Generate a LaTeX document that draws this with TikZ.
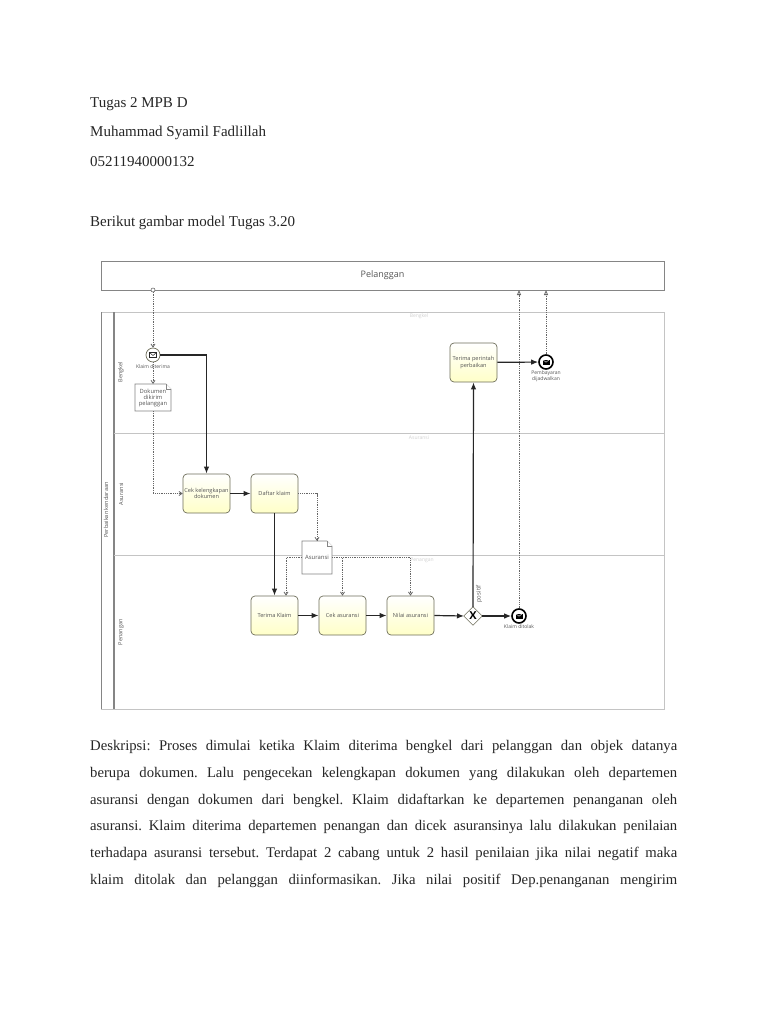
\documentclass[tikz,border=0pt]{standalone}
\usepackage{fontspec}
\setmainfont{Liberation Serif}
\setsansfont{Open Sans}
\usetikzlibrary{arrows.meta}
\definecolor{tasky}{HTML}{FFFFC8}
\definecolor{edgeg}{HTML}{6E6E5A}
\definecolor{laneg}{HTML}{C4C4C4}
\definecolor{poolg}{HTML}{858585}
\definecolor{ink}{HTML}{262626}
\definecolor{soft}{HTML}{555555}
\definecolor{dotg}{HTML}{666666}
\tikzset{
  x=1pt,y=-1pt,
  body/.style={inner sep=0pt,anchor=base west,font=\fontsize{15}{17}\selectfont,text=ink},
  desc/.style={inner sep=0pt,anchor=base west,font=\fontsize{14.7}{17}\selectfont,text=ink},
  task/.style={draw=edgeg,rounded corners=4pt,line width=.7pt,shading angle=-45,top color=white,bottom color=tasky,minimum width=47pt,minimum height=39pt,inner sep=0pt,align=center,font=\sffamily\fontsize{5.6}{6.2}\selectfont,text=soft},
  datadoc/.style={draw=poolg,fill=white,line width=.7pt},
  small/.style={font=\sffamily\fontsize{5}{5.6}\selectfont,text=soft,inner sep=0pt,align=center},
  lanelabel/.style={font=\sffamily\fontsize{5.6}{6}\selectfont,text=soft,inner sep=0pt,rotate=90},
  ghost/.style={font=\sffamily\fontsize{5}{6}\selectfont,text=black!18,inner sep=0pt},
  seq/.style={draw=ink,line width=1.2pt,-{Latex[length=7pt,width=5.5pt]}},
  assoc/.style={draw=dotg,line width=.8pt,densely dotted,-{Straight Barb[length=3pt,width=4pt]}},
  msg/.style={draw=dotg,line width=.8pt,densely dotted,-{Triangle[open,length=5pt,width=4pt]}},
  endev/.style={circle,draw=black,line width=1.6pt,fill=white,minimum size=14pt,inner sep=0pt},
}
\newcommand{\justline}[3]{\node[desc] (#1) at (90,#2) {\frenchspacing\makebox[587pt][s]{#3}};}
\begin{document}
\begin{tikzpicture}
\useasboundingbox[fill=white] (0,0) rectangle (768,1024);
% header text
\node[body] (t1) at (90,107.5) {Tugas 2 MPB D};
\node[body] (t2) at (90,137) {Muhammad Syamil Fadlillah};
\node[body] (t3) at (90,167) {05211940000132};
\node[body] (t4) at (90,226) {Berikut gambar model Tugas 3.20};
% pools
\node[draw=poolg,line width=.9pt,minimum width=563pt,minimum height=29pt,inner sep=0pt,font=\sffamily\fontsize{9}{10}\selectfont,text=soft] (pelanggan) at (382.5,275.5) {Pelanggan};
\draw[draw=laneg,line width=.9pt] (101,312) rectangle (664,709);
\draw[draw=poolg,line width=.9pt] (101,312) -- (101,709);
\draw[draw=poolg,line width=1.1pt] (114,312) -- (114,709);
\draw[draw=laneg,line width=.6pt] (114,433) -- (664,433);
\draw[draw=laneg,line width=.8pt] (114,555) -- (664,555);
\node[lanelabel] (pool) at (106,510) {Perbaikan kendaraan};
\node[lanelabel] (l1) at (121,372) {Bengkel};
\node[lanelabel] (l2) at (121,494) {Asuransi};
\node[lanelabel] (l3) at (121,632) {Penangan};
\node[ghost] (g1) at (419,316) {Bengkel};
\node[ghost] (g2) at (419,438) {Asuransi};
\node[ghost] (g3) at (422,560) {Penangan};
% tasks
\node[task] (cek) at (206.5,493.5) {Cek kelengkapan\\dokumen};
\node[task] (daftar) at (274.5,493.5) {Daftar klaim};
\node[task] (terima) at (274.5,615.5) {Terima Klaim};
\node[task] (cekas) at (342.5,615.5) {Cek asuransi};
\node[task] (nilai) at (410.5,615.5) {Nilai asuransi};
\node[task] (perintah) at (473.5,362.5) {Terima perintah\\perbaikan};
% events
\node[circle,draw=edgeg,fill=white,line width=.7pt,minimum size=14pt,inner sep=0pt] (start) at (153,355) {};
\draw[draw=ink,line width=.5pt] (149.5,352.5) rectangle (156.5,357.5);
\draw[draw=ink,line width=.5pt] (149.5,352.5) -- (153,355.5) -- (156.5,352.5);
\node[small] (startl) at (153,367) {Klaim diterima};
\node[endev] (end1) at (546,362) {};
\node[endev] (end2) at (519,616) {};
\foreach \c in {end1,end2}{
  \fill[black] ([xshift=-3.5pt,yshift=-2.5pt]\c.center) rectangle ([xshift=3.5pt,yshift=2.5pt]\c.center);
  \draw[white,line width=.4pt] ([xshift=-3.5pt,yshift=2.5pt]\c.center) -- ([yshift=-.2pt]\c.center) -- ([xshift=3.5pt,yshift=2.5pt]\c.center);
}
\node[small] (end1l) at (546,376) {Pembayaran\\dijadwalkan};
\node[small] (end2l) at (519,627) {Klaim ditolak};
% gateway
\node[draw=edgeg,fill=white,line width=.6pt,shape=rectangle,rotate=45,minimum size=13pt,inner sep=0pt] (gw) at (473,616) {};
\node[font=\sffamily\bfseries\fontsize{11}{11}\selectfont,inner sep=0pt] (gwx) at (473,616) {X};
\node[small,rotate=90,font=\sffamily\fontsize{6}{6}\selectfont] (pos) at (479,594) {positif};
% documents
\draw[datadoc] (135,384) -- (166,384) -- (171,389) -- (171,411) -- (135,411) -- cycle;
\draw[datadoc] (166,384) -- (166,389) -- (171,389);
\node[small,font=\sffamily\fontsize{5.8}{6}\selectfont] (doc1) at (153,397.5) {Dokumen\\dikirim\\pelanggan};
\draw[datadoc] (302,541) -- (327,541) -- (332,546) -- (332,574) -- (302,574) -- cycle;
\draw[datadoc] (327,541) -- (327,546) -- (332,546);
\node[small,font=\sffamily\fontsize{5.9}{6}\selectfont] (doc2) at (317,557.5) {Asuransi};
\coordinate (doc1top) at (153,384);
\coordinate (doc1bot) at (153,411);
\coordinate (doc2top) at (317,541);
\coordinate (doc2left) at (302,557.5);
\coordinate (doc2right) at (332,557.5);
% sequence flows
\draw[seq] (start.east) -| (cek.north);
\draw[seq] (cek) -- (daftar);
\draw[seq] (daftar) -- (terima);
\draw[seq] (terima) -- (cekas);
\draw[seq] (cekas) -- (nilai);
\coordinate (gwl) at (464,616);
\coordinate (gwr) at (482,616);
\coordinate (gwt) at (473,607);
\draw[seq] (nilai.east) -- (gwl);
\draw[seq] (gwr) -- (end2.west);
\draw[seq] (gwt) -- (perintah.south);
\draw[seq] (perintah) -- (end1);
% associations and message flows
\coordinate (msgfrom) at (153,290);
\coordinate (m1) at (519,290);
\coordinate (m2) at (546,290);
\draw[assoc] (msgfrom) -- (start.north);
\draw[fill=white,draw=soft,line width=.5pt] (msgfrom) circle (2pt);
\draw[assoc] (start.south) -- (doc1top);
\draw[assoc] (doc1bot) |- (cek.west);
\draw[assoc] (daftar.east) -| (doc2top);
\draw[assoc] (doc2left) -| ([xshift=11.5pt]terima.north);
\draw[assoc] (doc2right) -| (cekas.north);
\draw[assoc] (doc2right) -| (nilai.north);
\draw[msg] (end2.north) -- (m1);
\draw[msg] (end1.north) -- (m2);
% description
\justline{d1}{750}{Deskripsi: Proses dimulai ketika Klaim diterima bengkel dari pelanggan dan objek datanya}
\justline{d2}{777}{berupa dokumen. Lalu pengecekan kelengkapan dokumen yang dilakukan oleh departemen}
\justline{d3}{804}{asuransi dengan dokumen dari bengkel. Klaim didaftarkan ke departemen penanganan oleh}
\justline{d4}{830}{asuransi. Klaim diterima departemen penangan dan dicek asuransinya lalu dilakukan penilaian}
\justline{d5}{857}{terhadapa asuransi tersebut. Terdapat 2 cabang untuk 2 hasil penilaian jika nilai negatif maka}
\justline{d6}{884}{klaim ditolak dan pelanggan diinformasikan. Jika nilai positif Dep.penanganan mengirim}
\end{tikzpicture}
\end{document}
